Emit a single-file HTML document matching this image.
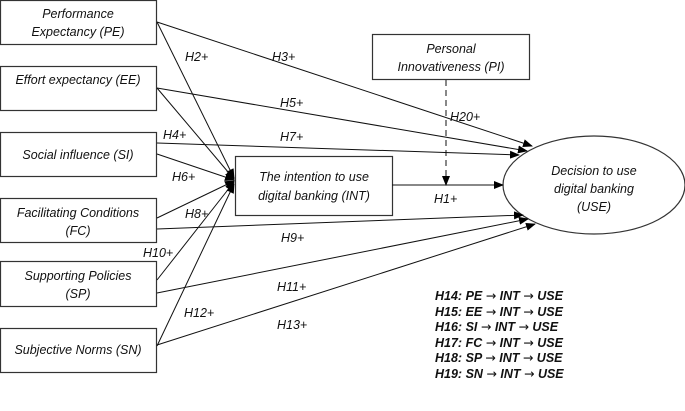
<!DOCTYPE html>
<html><head><meta charset="utf-8"><style>
html,body{margin:0;padding:0;background:#fff;}
svg{display:block;}
text{font-family:"Liberation Sans",sans-serif;font-style:italic;font-size:12.5px;fill:#111;}
.ar{font-family:"DejaVu Sans",sans-serif;font-weight:normal;}
</style></head><body>
<svg width="685" height="411" viewBox="0 0 685 411" xmlns="http://www.w3.org/2000/svg">
<defs>
<marker id="a" markerWidth="10" markerHeight="8" refX="9" refY="4" orient="auto" markerUnits="userSpaceOnUse">
<path d="M0,0 L10,4 L0,8 z" fill="#000"/></marker>
</defs>
<g fill="#fff" stroke="#333" stroke-width="1.2">
<rect x="0.5" y="0.5" width="156" height="44"/>
<rect x="0.5" y="66.5" width="156" height="44"/>
<rect x="0.5" y="132.5" width="156" height="44"/>
<rect x="0.5" y="198.5" width="156" height="44"/>
<rect x="0.5" y="261.5" width="156" height="45"/>
<rect x="0.5" y="328.5" width="156" height="44"/>
<rect x="235.5" y="156.5" width="157" height="59"/>
<rect x="372.5" y="34.5" width="157" height="45"/>
<ellipse cx="594" cy="185" rx="91" ry="49"/>
</g>
<g stroke="#111" stroke-width="1" fill="none" marker-end="url(#a)">
<line x1="157" y1="22" x2="532" y2="146"/>
<line x1="157" y1="88" x2="527" y2="151"/>
<line x1="157" y1="143" x2="519" y2="155"/>
<line x1="157" y1="229" x2="523" y2="215"/>
<line x1="157" y1="293" x2="528" y2="219"/>
<line x1="157" y1="345" x2="535" y2="224"/>
<line x1="392" y1="185" x2="503" y2="185"/>
<line x1="157" y1="22" x2="234" y2="178"/>
<line x1="157" y1="88" x2="234" y2="179"/>
<line x1="157" y1="154" x2="234" y2="180"/>
<line x1="157" y1="218" x2="234" y2="181"/>
<line x1="157" y1="280" x2="234" y2="182"/>
<line x1="157" y1="346" x2="234" y2="184"/>
<line x1="446" y1="80" x2="446" y2="185" stroke-dasharray="6,4"/>
</g>
<g text-anchor="middle">
<text x="78" y="18">Performance</text><text x="78" y="36">Expectancy (PE)</text>
<text x="78" y="84">Effort expectancy (EE)</text>
<text x="78" y="159">Social influence (SI)</text>
<text x="78" y="217">Facilitating Conditions</text><text x="78" y="235">(FC)</text>
<text x="78" y="280">Supporting Policies</text><text x="78" y="298">(SP)</text>
<text x="78" y="354">Subjective Norms (SN)</text>
<text x="314" y="181">The intention to use</text><text x="314" y="200">digital banking (INT)</text>
<text x="451" y="53">Personal</text><text x="451" y="71">Innovativeness (PI)</text>
<text x="594" y="175">Decision to use</text><text x="594" y="193">digital banking</text><text x="594" y="211">(USE)</text>
</g>
<g>
<text x="185" y="61">H2+</text>
<text x="272" y="61">H3+</text>
<text x="280" y="107">H5+</text>
<text x="163" y="139">H4+</text>
<text x="280" y="141">H7+</text>
<text x="172" y="181">H6+</text>
<text x="185" y="218">H8+</text>
<text x="281" y="242">H9+</text>
<text x="143" y="257">H10+</text>
<text x="277" y="291">H11+</text>
<text x="184" y="317">H12+</text>
<text x="277" y="329">H13+</text>
<text x="450" y="121">H20+</text>
<text x="434" y="203">H1+</text>
</g>
<g font-weight="bold">
<text x="435" y="300" font-weight="bold">H14:   PE <tspan class="ar">→</tspan> INT <tspan class="ar">→</tspan> USE</text>
<text x="435" y="316" font-weight="bold">H15:   EE <tspan class="ar">→</tspan> INT <tspan class="ar">→</tspan> USE</text>
<text x="435" y="331" font-weight="bold">H16: SI <tspan class="ar">→</tspan> INT <tspan class="ar">→</tspan> USE</text>
<text x="435" y="347" font-weight="bold">H17: FC <tspan class="ar">→</tspan> INT <tspan class="ar">→</tspan> USE</text>
<text x="435" y="362" font-weight="bold">H18: SP <tspan class="ar">→</tspan> INT <tspan class="ar">→</tspan> USE</text>
<text x="435" y="378" font-weight="bold">H19: SN <tspan class="ar">→</tspan> INT <tspan class="ar">→</tspan> USE</text>
</g>
</svg>
</body></html>
